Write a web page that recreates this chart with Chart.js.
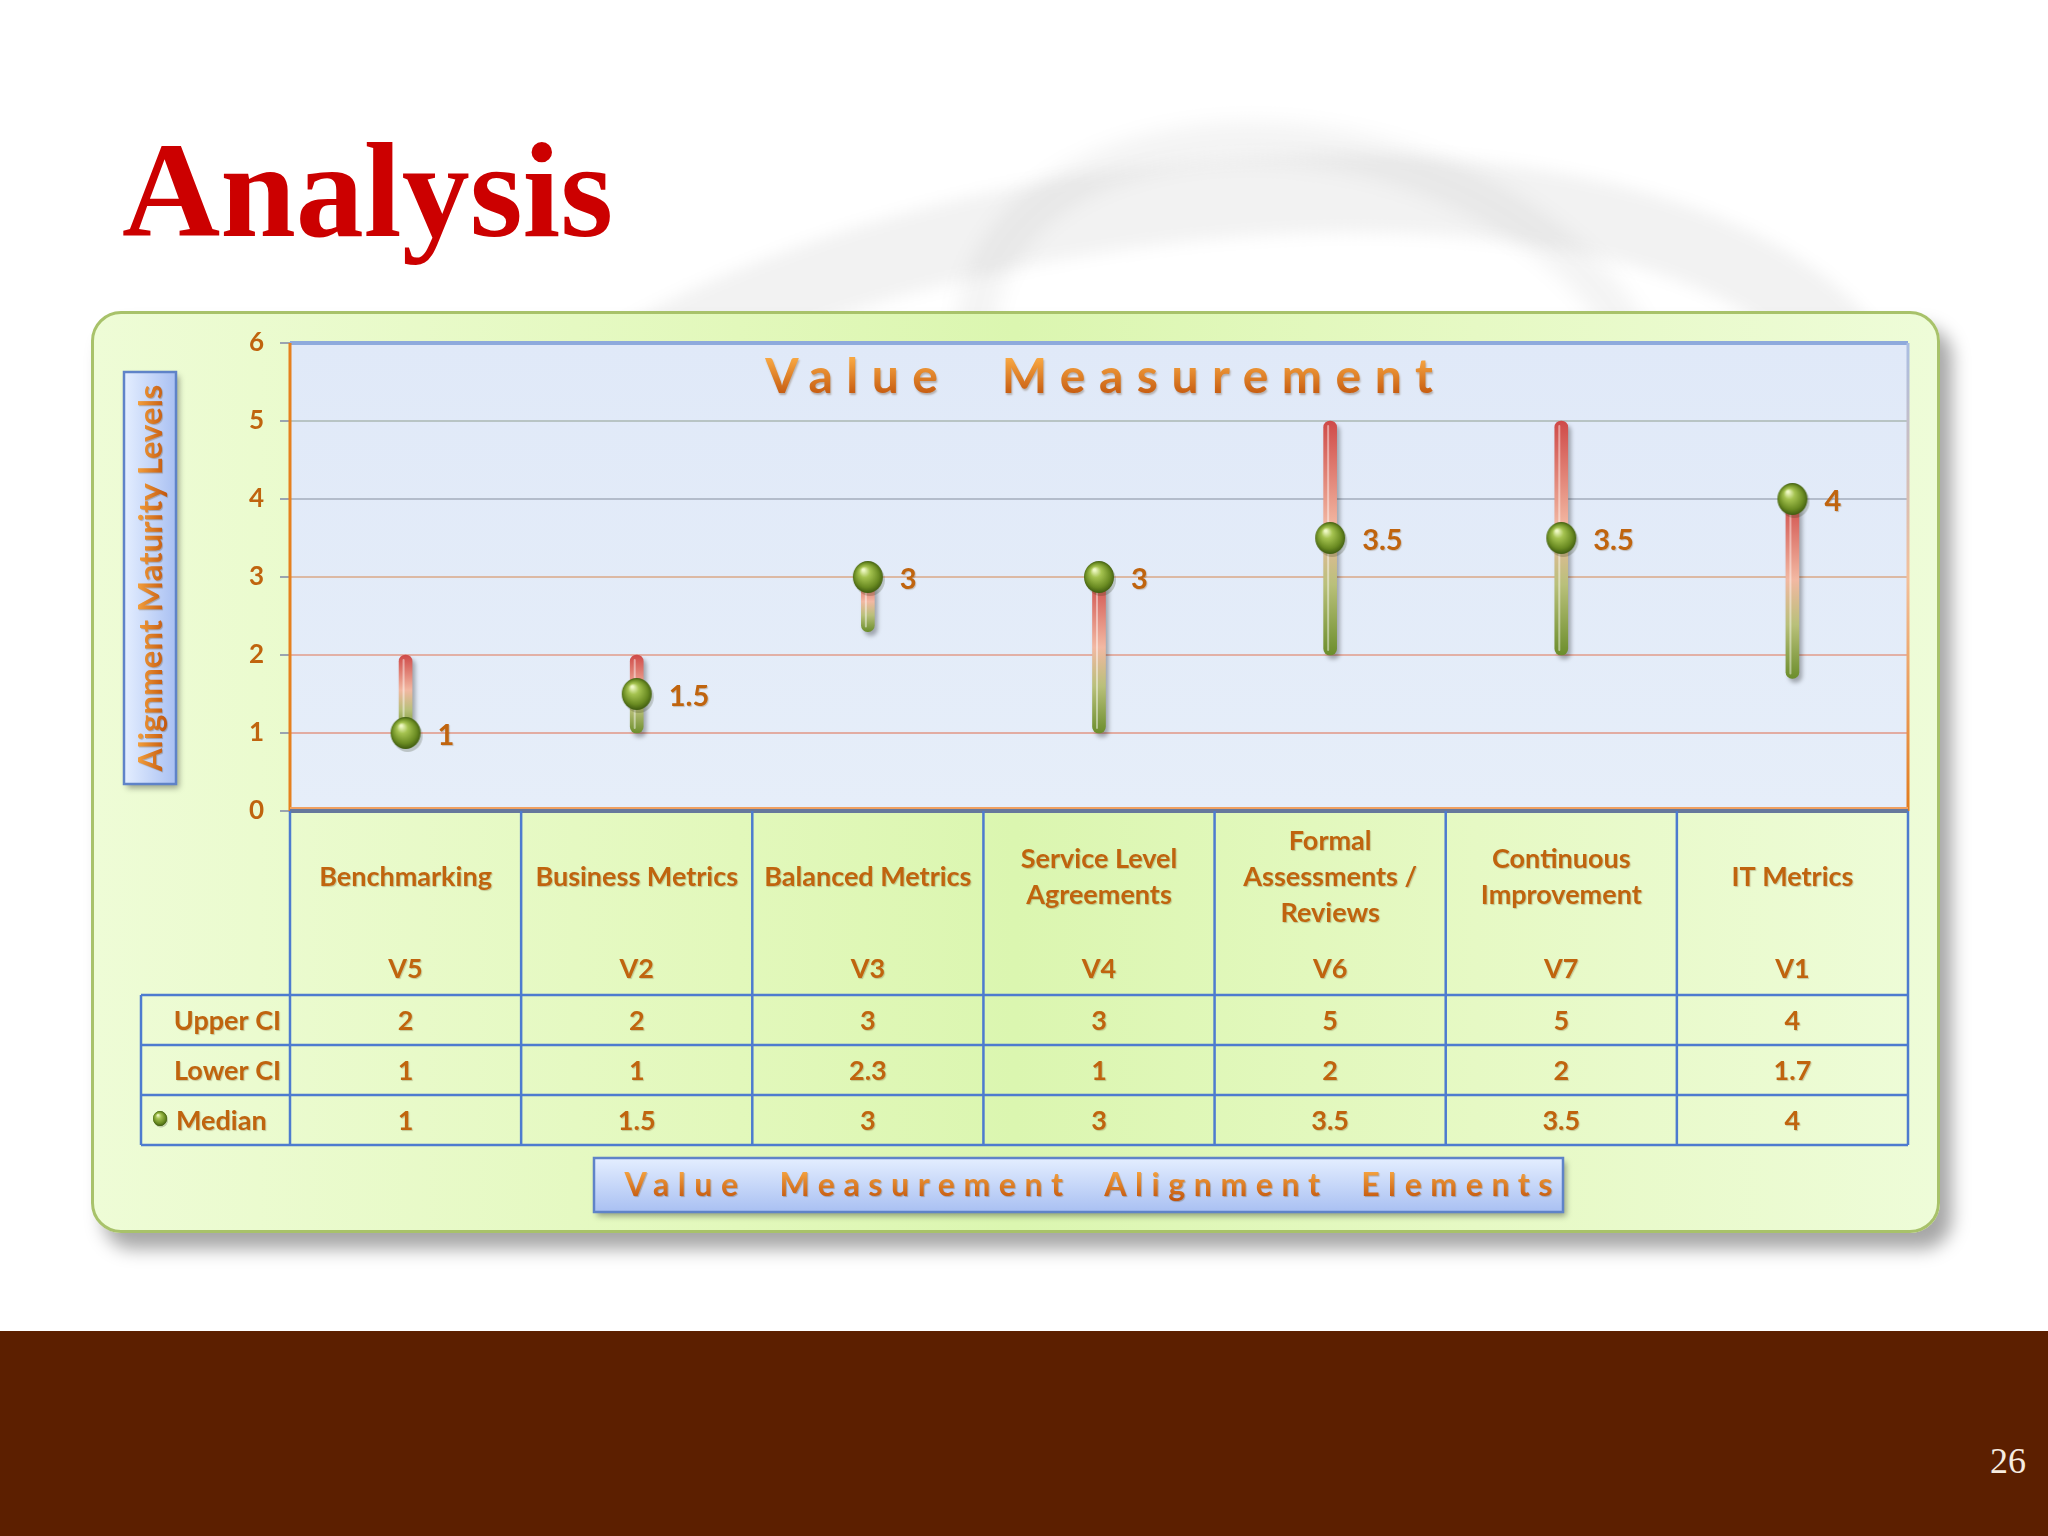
<!DOCTYPE html>
<html>
<head>
<meta charset="utf-8">
<title>Analysis</title>
<script src="https://cdn.jsdelivr.net/npm/chart.js@4.4.1/dist/chart.umd.min.js"></script>
<style>
  html, body { margin: 0; padding: 0; }
  body {
    width: 2048px; height: 1536px; position: relative; overflow: hidden;
    background: #ffffff; font-family: Lato, "Open Sans", sans-serif;
  }
  .swoosh {
    position: absolute; left: 360px; top: 170px; width: 1400px; height: 560px;
    border: 80px solid rgba(0, 0, 0, 0.05); border-radius: 50%;
    transform: rotate(-9deg); filter: blur(8px);
  }
  .swoosh2 {
    position: absolute; left: 950px; top: 130px; width: 650px; height: 420px;
    border: 40px solid rgba(0, 0, 0, 0.045); border-radius: 50%;
    transform: rotate(14deg); filter: blur(10px);
  }
  h1 {
    position: absolute; left: 122px; top: 122px; margin: 0;
    font: bold 136px/136px "Liberation Serif", "DejaVu Serif", serif;
    color: #cc0000;
  }
  .panel {
    position: absolute; left: 91px; top: 311px; width: 1843px; height: 916px;
    border: 3px solid #a8c26a; border-radius: 30px;
    background: linear-gradient(to right, #eefcd6 0%, #e2f8bb 35%, #dbf6b0 50%, #e6f9c4 75%, #eefcd8 100%);
    box-shadow: 12px 16px 18px rgba(0, 0, 0, 0.35);
  }
  .footer {
    position: absolute; left: 0; top: 1331px; width: 2048px; height: 205px;
    background: #5c1f00;
  }
  .pagenum {
    position: absolute; right: 22px; top: 1443px;
    font: 36px/36px "Liberation Serif", serif; color: #f6ece0;
  }
  #chart { position: absolute; left: 0; top: 0; }
</style>
</head>
<body>
<div class="swoosh"></div>
<div class="swoosh2"></div>
<h1>Analysis</h1>
<div class="panel"></div>
<div class="footer"></div>
<div class="pagenum">26</div>
<canvas id="chart" width="2048" height="1536"></canvas>

<script>
// ------------------- DATA -------------------
const categories = [
  ["Benchmarking"],
  ["Business Metrics"],
  ["Balanced Metrics"],
  ["Service Level", "Agreements"],
  ["Formal", "Assessments /", "Reviews"],
  ["Continuous", "Improvement"],
  ["IT Metrics"]
];
const codes = ["V5", "V2", "V3", "V4", "V6", "V7", "V1"];
const upperCI = [2, 2, 3, 3, 5, 5, 4];
const lowerCI = [1, 1, 2.3, 1, 2, 2, 1.7];
const median = [1, 1.5, 3, 3, 3.5, 3.5, 4];
const rowNames = ["Upper CI", "Lower CI", "Median"];

const chartTitle = "Value  Measurement";
const yTitle = "Alignment Maturity Levels";
const xTitle = "Value  Measurement  Alignment  Elements";

// ------------------- STYLE -------------------
const FONT = "Lato, 'Open Sans', sans-serif";
const TEXT = "#c0640e";
const LINE_BLUE = "#4d7bcf";
const gridColors = ["#d9a58a", "#e2aca2", "#e2b0a6", "#dcb9a4", "#b3bccb", "#b8c4c4", "#9fb3da"];

// green glass ball used for the median points
function makeBall(rx, ry) {
  const c = document.createElement("canvas");
  c.width = rx * 2 + 8;
  c.height = ry * 2 + 8;
  const g = c.getContext("2d");
  const cx = c.width / 2, cy = c.height / 2;
  g.fillStyle = "rgba(40, 50, 20, 0.22)";
  g.beginPath(); g.ellipse(cx + 2, cy + 3, rx, ry, 0, 0, Math.PI * 2); g.fill();
  const rg = g.createRadialGradient(cx - rx * 0.3, cy - ry * 0.45, 1, cx, cy, Math.max(rx, ry));
  rg.addColorStop(0, "#eef8c4");
  rg.addColorStop(0.3, "#a5c350");
  rg.addColorStop(0.75, "#6a8b22");
  rg.addColorStop(1, "#3f5b10");
  g.fillStyle = rg;
  g.beginPath(); g.ellipse(cx, cy, rx, ry, 0, 0, Math.PI * 2); g.fill();
  return c;
}
const ball = makeBall(15, 16);

function orangeGradient(ctx, y0, y1) {
  const g = ctx.createLinearGradient(0, y0, 0, y1);
  g.addColorStop(0, "#f7a641");
  g.addColorStop(1, "#c2550c");
  return g;
}

function blueBox(ctx, x, y, w, h, vertical) {
  ctx.save();
  ctx.shadowColor = "rgba(0,0,0,0.35)";
  ctx.shadowBlur = 6;
  ctx.shadowOffsetX = 3;
  ctx.shadowOffsetY = 4;
  const g = vertical ? ctx.createLinearGradient(x, 0, x + w, 0) : ctx.createLinearGradient(0, y, 0, y + h);
  g.addColorStop(0, "#e4eeff");
  g.addColorStop(1, "#a9c0f2");
  ctx.fillStyle = g;
  ctx.fillRect(x, y, w, h);
  ctx.restore();
  ctx.save();
  ctx.strokeStyle = "#5f83c8";
  ctx.lineWidth = 2.5;
  ctx.strokeRect(x, y, w, h);
  ctx.restore();
}

function spacedText(ctx, text, x, y, spacing) {
  ctx.letterSpacing = spacing + "px";
  const w = ctx.measureText(text).width - spacing;
  ctx.textAlign = "left";
  ctx.fillText(text, x - w / 2, y);
  ctx.letterSpacing = "0px";
}

// ------------------- PLUGIN: frame, labels, table -------------------
const slidePlugin = {
  id: "slide",
  beforeDraw(chart) {
    const { ctx, chartArea: a } = chart;
    ctx.save();
    const bg = ctx.createLinearGradient(0, a.top, 0, a.bottom);
    bg.addColorStop(0, "#e0e9f8");
    bg.addColorStop(1, "#e6eef9");
    ctx.fillStyle = bg;
    ctx.fillRect(a.left, a.top, a.width, a.height);
    ctx.restore();
  },
  beforeDatasetsDraw(chart) {
    const { ctx, chartArea: a } = chart;
    ctx.save();
    // top
    ctx.strokeStyle = "#8eaadc"; ctx.lineWidth = 4;
    ctx.beginPath(); ctx.moveTo(a.left, a.top); ctx.lineTo(a.right, a.top); ctx.stroke();
    // right
    const rg = ctx.createLinearGradient(0, a.top, 0, a.bottom);
    rg.addColorStop(0, "#a9bde2"); rg.addColorStop(0.5, "#f3bf9a"); rg.addColorStop(1, "#e27a1c");
    ctx.strokeStyle = rg; ctx.lineWidth = 3;
    ctx.beginPath(); ctx.moveTo(a.right, a.top); ctx.lineTo(a.right, a.bottom); ctx.stroke();
    // left
    ctx.strokeStyle = "#e5801f"; ctx.lineWidth = 3;
    ctx.beginPath(); ctx.moveTo(a.left, a.top); ctx.lineTo(a.left, a.bottom); ctx.stroke();
    // bottom
    ctx.strokeStyle = "#f0a060"; ctx.lineWidth = 2;
    ctx.beginPath(); ctx.moveTo(a.left, a.bottom - 3); ctx.lineTo(a.right, a.bottom - 3); ctx.stroke();
    ctx.strokeStyle = "#66789c"; ctx.lineWidth = 4;
    ctx.beginPath(); ctx.moveTo(a.left, a.bottom); ctx.lineTo(a.right, a.bottom); ctx.stroke();

    // chart title
    ctx.font = `bold 48px ${FONT}`;
    ctx.textBaseline = "middle";
    ctx.shadowColor = "rgba(80,40,0,0.3)";
    ctx.shadowOffsetX = 1; ctx.shadowOffsetY = 2; ctx.shadowBlur = 2;
    ctx.fillStyle = orangeGradient(ctx, a.top + 16, a.top + 54);
    spacedText(ctx, chartTitle, (a.left + a.right) / 2, a.top + 35, 13.5);
    ctx.restore();
  },
  beforeDatasetDraw(chart, args) {
    if (args.index !== 0) return;
    const ctx = chart.ctx;
    ctx.save();
    ctx.shadowColor = "rgba(0,0,0,0.3)";
    ctx.shadowBlur = 4;
    ctx.shadowOffsetX = 3;
    ctx.shadowOffsetY = 4;
  },
  afterDatasetDraw(chart, args) {
    if (args.index !== 0) return;
    const ctx = chart.ctx;
    ctx.restore();
    // glossy highlight on each bar
    ctx.save();
    ctx.strokeStyle = "rgba(255,255,255,0.45)";
    ctx.lineWidth = 2;
    ctx.lineCap = "round";
    chart.getDatasetMeta(0).data.forEach(bar => {
      ctx.beginPath();
      ctx.moveTo(bar.x - 2, Math.min(bar.y, bar.base) + 5);
      ctx.lineTo(bar.x - 2, Math.max(bar.y, bar.base) - 5);
      ctx.stroke();
    });
    ctx.restore();
  },
  afterDatasetsDraw(chart) {
    const ctx = chart.ctx;
    ctx.save();
    ctx.font = `bold 29px ${FONT}`;
    ctx.fillStyle = TEXT;
    ctx.textAlign = "left";
    ctx.textBaseline = "middle";
    ctx.shadowColor = "rgba(90,50,0,0.25)";
    ctx.shadowOffsetX = 1; ctx.shadowOffsetY = 1; ctx.shadowBlur = 1;
    chart.getDatasetMeta(1).data.forEach((pt, i) => {
      ctx.fillText(String(median[i]), pt.x + 32, pt.y + 3);
    });
    ctx.restore();
  },
  afterDraw(chart) {
    const { ctx, chartArea: a } = chart;
    const xs = chart.scales.x;
    const n = codes.length;
    const bounds = [];
    for (let i = 0; i <= n; i++) {
      if (i === 0) bounds.push(a.left);
      else if (i === n) bounds.push(a.right);
      else bounds.push((xs.getPixelForValue(i - 1) + xs.getPixelForValue(i)) / 2);
    }
    const headH = 184, rowH = 50;
    const rowsTop = a.bottom + headH;
    const labelLeft = a.left - 149;

    ctx.save();
    // table lines
    ctx.strokeStyle = LINE_BLUE;
    ctx.lineWidth = 2.5;
    ctx.beginPath();
    bounds.forEach(b => { ctx.moveTo(b, a.bottom); ctx.lineTo(b, rowsTop + rowH * 3); });
    ctx.moveTo(labelLeft, rowsTop); ctx.lineTo(labelLeft, rowsTop + rowH * 3);
    for (let r = 0; r <= 3; r++) {
      ctx.moveTo(labelLeft, rowsTop + rowH * r);
      ctx.lineTo(a.right, rowsTop + rowH * r);
    }
    ctx.stroke();

    // header text
    ctx.fillStyle = TEXT;
    ctx.textAlign = "center";
    ctx.textBaseline = "middle";
    ctx.shadowColor = "rgba(90,50,0,0.25)";
    ctx.shadowOffsetX = 1; ctx.shadowOffsetY = 1; ctx.shadowBlur = 1;
    ctx.font = `bold 27px ${FONT}`;
    categories.forEach((lines, i) => {
      const cx = xs.getPixelForValue(i);
      const lh = 36;
      const y0 = a.bottom + 66 - (lines.length - 1) * lh / 2;
      lines.forEach((t, k) => ctx.fillText(t, cx, y0 + k * lh));
      ctx.fillText(codes[i], cx, a.bottom + 158);
    });

    // value rows
    const rows = [upperCI, lowerCI, median];
    rows.forEach((vals, r) => {
      const cy = rowsTop + rowH * r + rowH / 2 + 1;
      vals.forEach((v, i) => ctx.fillText(String(v), xs.getPixelForValue(i), cy));
    });

    // row labels
    ctx.textAlign = "right";
    ctx.fillText(rowNames[0], a.left - 9, rowsTop + rowH * 0.5 + 1);
    ctx.fillText(rowNames[1], a.left - 9, rowsTop + rowH * 1.5 + 1);
    ctx.textAlign = "left";
    ctx.fillText(rowNames[2], labelLeft + 35, rowsTop + rowH * 2.5 + 1);
    ctx.shadowColor = "transparent";
    ctx.drawImage(ball, labelLeft + 10, rowsTop + rowH * 2.5 - 11, 18, 19);

    // y axis title box
    const yb = { x: a.left - 166, y: a.top + 29, w: 52, h: a.height - 56 };
    blueBox(ctx, yb.x, yb.y, yb.w, yb.h, true);
    ctx.save();
    ctx.translate(yb.x + yb.w / 2 + 1, yb.y + yb.h / 2);
    ctx.rotate(-Math.PI / 2);
    ctx.font = `bold 33px ${FONT}`;
    ctx.textAlign = "center";
    ctx.textBaseline = "middle";
    ctx.shadowColor = "rgba(90,50,0,0.3)";
    ctx.shadowOffsetX = 1; ctx.shadowOffsetY = 1; ctx.shadowBlur = 1;
    ctx.fillStyle = orangeGradient(ctx, -16, 16);
    ctx.fillText(yTitle, 0, 0);
    ctx.restore();

    // x axis title box
    const xb = { x: a.left + 304, y: rowsTop + rowH * 3 + 13, w: 969, h: 54 };
    blueBox(ctx, xb.x, xb.y, xb.w, xb.h, false);
    ctx.font = `bold 32px ${FONT}`;
    ctx.textBaseline = "middle";
    ctx.shadowColor = "rgba(90,50,0,0.3)";
    ctx.shadowOffsetX = 1; ctx.shadowOffsetY = 1; ctx.shadowBlur = 1;
    ctx.fillStyle = orangeGradient(ctx, xb.y + 12, xb.y + 42);
    spacedText(ctx, xTitle, xb.x + xb.w / 2 + 10, xb.y + xb.h / 2 + 1, 8.6);
    ctx.restore();
  }
};

// ------------------- CHART -------------------
const ctx = document.getElementById("chart").getContext("2d");

const chart = new Chart(ctx, {
  type: "bar",
  data: {
    labels: categories,
    datasets: [
      {
        type: "bar",
        label: "Confidence interval",
        data: upperCI.map((u, i) => [lowerCI[i], u]),
        backgroundColor(c) {
          const ch = c.chart;
          if (c.type !== "data" || !ch.chartArea) return "#d88";
          const y = ch.scales.y;
          const top = y.getPixelForValue(upperCI[c.dataIndex]);
          const bot = y.getPixelForValue(lowerCI[c.dataIndex]);
          const g = ch.ctx.createLinearGradient(0, top, 0, bot);
          g.addColorStop(0, "#cf4a48");
          g.addColorStop(0.45, "#f2b8a2");
          g.addColorStop(0.7, "#b9c07a");
          g.addColorStop(1, "#6c8e2c");
          return g;
        },
        barThickness: 13,
        borderRadius: 6.5,
        borderSkipped: false,
        order: 2
      },
      {
        type: "line",
        label: "Median",
        data: median,
        showLine: false,
        pointStyle: ball,
        pointRadius: 16,
        order: 1
      }
    ]
  },
  options: {
    responsive: false,
    animation: false,
    devicePixelRatio: 1,
    layout: { padding: { left: 200, top: 343, right: 140, bottom: 725 } },
    scales: {
      x: { type: "category", display: false, offset: true },
      y: {
        min: 0,
        max: 6,
        ticks: {
          stepSize: 1,
          color: TEXT,
          font: { family: FONT, size: 26, weight: "bold" },
          padding: 16
        },
        grid: {
          color: c => gridColors[c.index] || "#ccc",
          lineWidth: 2,
          tickLength: 10,
          tickColor: "#9aa4b0"
        },
        border: { display: false },
        afterFit(scale) { scale.width = 90; }
      }
    },
    plugins: {
      legend: { display: false },
      tooltip: { enabled: false }
    }
  },
  plugins: [slidePlugin]
});
</script>
</body>
</html>
